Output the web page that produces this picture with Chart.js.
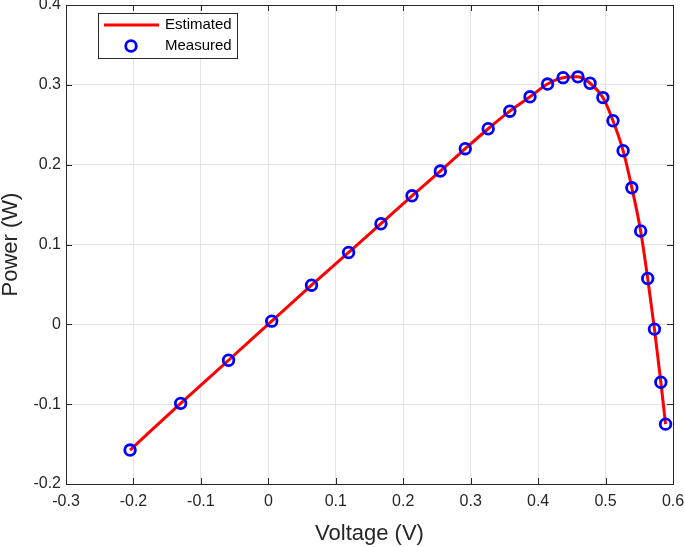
<!DOCTYPE html>
<html>
<head>
<meta charset="utf-8">
<script src="https://cdn.jsdelivr.net/npm/chart.js@4"></script>
<style>
  body { margin: 0; background: #fff; }
  #wrap { width: 685px; height: 547px; position: relative; }
</style>
</head>
<body>
<div id="wrap"><canvas id="pv-canvas"></canvas></div>
<script>
// values
let voltage = [-0.205, -0.130, -0.059, 0.005, 0.064, 0.119, 0.167, 0.213, 0.255, 0.292,
    0.326, 0.358, 0.388, 0.414, 0.437, 0.459, 0.477, 0.496, 0.511, 0.526,
    0.539, 0.552, 0.5625, 0.5725, 0.582, 0.589];
let measuredPower = [-0.1575, -0.099, -0.045, 0.004, 0.049, 0.090, 0.126, 0.161, 0.192, 0.220,
    0.245, 0.267, 0.285, 0.301, 0.309, 0.310, 0.302, 0.284, 0.255, 0.2175,
    0.171, 0.117, 0.0575, -0.006, -0.0725, -0.125];
let estimatedPower = [-0.1575, -0.099, -0.045, 0.004, 0.049, 0.090, 0.126, 0.161, 0.192, 0.220,
    0.245, 0.267, 0.285, 0.301, 0.309, 0.310, 0.302, 0.284, 0.255, 0.2175,
    0.171, 0.117, 0.0575, -0.006, -0.0725, -0.125];
let xTicks = [-0.3, -0.2, -0.1, 0, 0.1, 0.2, 0.3, 0.4, 0.5, 0.6];
let yTicks = [-0.2, -0.1, 0, 0.1, 0.2, 0.3, 0.4];
let legendLabels = ['Estimated', 'Measured'];

const axisColor = '#262626';
const fontFamily = '"Liberation Sans", Arial, Helvetica, sans-serif';

// box round the plot with inward ticks, MATLAB style
const boxPlugin = {
    id: 'box',
    afterDraw(chart) {
        const ctx = chart.ctx;
        const a = chart.chartArea;
        const xs = chart.scales.x, ys = chart.scales.y;
        const len = 6;
        ctx.save();
        ctx.strokeStyle = axisColor;
        ctx.lineWidth = 1;
        ctx.beginPath();
        xTicks.forEach(v => {
            const px = Math.round(xs.getPixelForValue(v)) + 0.5;
            ctx.moveTo(px, a.bottom); ctx.lineTo(px, a.bottom - len);
            ctx.moveTo(px, a.top); ctx.lineTo(px, a.top + len);
        });
        yTicks.forEach(v => {
            const py = Math.round(ys.getPixelForValue(v)) + 0.5;
            ctx.moveTo(a.left, py); ctx.lineTo(a.left + len, py);
            ctx.moveTo(a.right, py); ctx.lineTo(a.right - len, py);
        });
        ctx.stroke();
        ctx.strokeRect(Math.round(a.left) + 0.5, Math.round(a.top) + 0.5,
            Math.round(a.right - a.left), Math.round(a.bottom - a.top));

        // legend box
        const lx = a.left + 32, ly = a.top + 8, lw = 139, lh = 45;
        ctx.fillStyle = '#fff';
        ctx.fillRect(lx, ly, lw, lh);
        ctx.strokeRect(Math.round(lx) + 0.5, Math.round(ly) + 0.5, lw, lh);
        ctx.strokeStyle = '#ff0000';
        ctx.lineWidth = 3;
        ctx.beginPath();
        ctx.moveTo(lx + 6, ly + 12);
        ctx.lineTo(lx + 61, ly + 12);
        ctx.stroke();
        ctx.strokeStyle = '#0000ff';
        ctx.lineWidth = 2.8;
        ctx.beginPath();
        ctx.arc(lx + 33, ly + 33, 5.3, 0, Math.PI * 2);
        ctx.stroke();
        ctx.fillStyle = '#000';
        ctx.font = '15px ' + fontFamily;
        ctx.textBaseline = 'middle';
        ctx.fillText(legendLabels[0], lx + 67, ly + 12);
        ctx.fillText(legendLabels[1], lx + 67, ly + 33);
        ctx.restore();
    }
};

let ctx = document.getElementById('pv-canvas').getContext('2d');
let pvChart = new Chart(ctx, {
    type: 'scatter',
    data: {
        datasets: [{
            label: legendLabels[1],
            data: voltage.map((v, i) => ({ x: v, y: measuredPower[i] })),
            showLine: false,
            pointRadius: 5.3,
            pointBorderWidth: 2.8,
            pointBorderColor: '#0000ff',
            pointBackgroundColor: 'rgba(0,0,0,0)'
        }, {
            label: legendLabels[0],
            data: voltage.map((v, i) => ({ x: v, y: estimatedPower[i] })),
            showLine: true,
            borderColor: '#ff0000',
            borderWidth: 3,
            pointRadius: 0,
            cubicInterpolationMode: 'monotone'
        }]
    },
    options: {
        responsive: true,
        maintainAspectRatio: false,
        animation: false,
        layout: {
            autoPadding: false,
            padding: { left: 0, right: 12, top: 5, bottom: 0 }
        },
        plugins: {
            legend: { display: false },
            tooltip: { enabled: false }
        },
        scales: {
            x: {
                type: 'linear',
                min: -0.3,
                max: 0.6,
                afterBuildTicks: s => { s.ticks = xTicks.map(v => ({ value: v })); },
                afterFit: s => { s.height = 63; s.paddingLeft = 0; s.paddingRight = 0; },
                grid: { color: '#e3e3e3', drawTicks: false },
                border: { display: false },
                ticks: {
                    padding: 8,
                    color: axisColor,
                    font: { family: fontFamily, size: 16 },
                    callback: v => String(+v.toFixed(1))
                },
                title: {
                    display: true,
                    text: 'Voltage (V)',
                    color: axisColor,
                    font: { family: fontFamily, size: 22, lineHeight: 1 },
                    padding: { top: 0, bottom: 2 }
                }
            },
            y: {
                type: 'linear',
                min: -0.2,
                max: 0.4,
                afterBuildTicks: s => { s.ticks = yTicks.map(v => ({ value: v })); },
                afterFit: s => { s.width = 66; s.paddingTop = 0; s.paddingBottom = 0; },
                grid: { color: '#e3e3e3', drawTicks: false },
                border: { display: false },
                ticks: {
                    padding: 5,
                    color: axisColor,
                    font: { family: fontFamily, size: 16 },
                    callback: v => String(+v.toFixed(1))
                },
                title: {
                    display: true,
                    text: 'Power (W)',
                    color: axisColor,
                    font: { family: fontFamily, size: 22, lineHeight: 1 },
                    padding: { top: 0, bottom: 0 }
                }
            }
        }
    },
    plugins: [boxPlugin]
});
</script>
</body>
</html>
